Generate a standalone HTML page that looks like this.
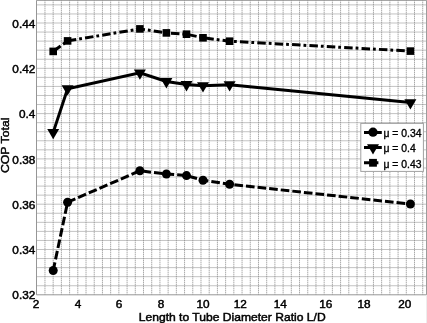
<!DOCTYPE html>
<html><head><meta charset="utf-8"><style>
html,body{margin:0;padding:0;background:#fff;overflow:hidden}
svg{display:block}
</style></head><body>
<svg width="427" height="323" viewBox="0 0 427 323">
<rect width="427" height="323" fill="#fff"/>
<path d="M44.96 0.3V294.80M53.17 0.3V294.80M61.39 0.3V294.80M69.60 0.3V294.80M77.81 0.3V294.80M86.02 0.3V294.80M94.23 0.3V294.80M102.45 0.3V294.80M110.66 0.3V294.80M118.87 0.3V294.80M127.08 0.3V294.80M135.29 0.3V294.80M143.51 0.3V294.80M151.72 0.3V294.80M159.93 0.3V294.80M168.14 0.3V294.80M176.35 0.3V294.80M184.57 0.3V294.80M192.78 0.3V294.80M200.99 0.3V294.80M209.20 0.3V294.80M217.41 0.3V294.80M225.63 0.3V294.80M233.84 0.3V294.80M242.05 0.3V294.80M250.26 0.3V294.80M258.47 0.3V294.80M266.69 0.3V294.80M274.90 0.3V294.80M283.11 0.3V294.80M291.32 0.3V294.80M299.53 0.3V294.80M307.75 0.3V294.80M315.96 0.3V294.80M324.17 0.3V294.80M332.38 0.3V294.80M340.59 0.3V294.80M348.81 0.3V294.80M357.02 0.3V294.80M365.23 0.3V294.80M373.44 0.3V294.80M381.65 0.3V294.80M389.87 0.3V294.80M398.08 0.3V294.80M406.29 0.3V294.80M414.50 0.3V294.80M422.71 0.3V294.80M36.5 285.74H426.57M36.5 276.68H426.57M36.5 267.62H426.57M36.5 258.56H426.57M36.5 249.50H426.57M36.5 240.44H426.57M36.5 231.38H426.57M36.5 222.32H426.57M36.5 213.26H426.57M36.5 204.20H426.57M36.5 195.14H426.57M36.5 186.08H426.57M36.5 177.02H426.57M36.5 167.96H426.57M36.5 158.90H426.57M36.5 149.84H426.57M36.5 140.78H426.57M36.5 131.72H426.57M36.5 122.66H426.57M36.5 113.60H426.57M36.5 104.54H426.57M36.5 95.48H426.57M36.5 86.42H426.57M36.5 77.36H426.57M36.5 68.30H426.57M36.5 59.24H426.57M36.5 50.18H426.57M36.5 41.12H426.57M36.5 32.06H426.57M36.5 23.00H426.57M36.5 13.94H426.57M36.5 4.88H426.57" stroke="#868686" stroke-width="1" stroke-dasharray="1 1" fill="none"/>
<path d="M36.5 0.35V294.8H426.57V0.35Z" stroke="#969696" stroke-width="1" fill="none"/>
<path d="M426.57 295.30V323" stroke="#ececec" stroke-width="1"/>
<polyline points="53.2,270.5 67.6,202.2 139.9,170.8 166.4,174.0 186.5,175.6 203.0,180.2 229.6,184.3 410.4,204.0" stroke="#000" stroke-width="3" fill="none" stroke-dasharray="8.65 3" stroke-dashoffset="0.3"/>
<polyline points="53.2,132.4 67.6,88.7 139.9,72.9 166.4,81.5 186.5,84.5 203.0,85.7 229.6,84.7 410.4,102.6" stroke="#000" stroke-width="3" fill="none" stroke-linejoin="miter"/>
<polyline points="53.2,51.4 67.6,40.9 139.9,28.9 166.4,32.9 186.5,34.2 203.0,37.8 229.6,41.2 410.4,51.1" stroke="#000" stroke-width="3" fill="none" stroke-dasharray="8.5 2.95 2.8 3.15" stroke-dashoffset="-0.7"/>
<circle cx="53.2" cy="270.5" r="4.5"/>
<circle cx="67.6" cy="202.2" r="4.5"/>
<circle cx="139.9" cy="170.8" r="4.5"/>
<circle cx="166.4" cy="174.0" r="4.5"/>
<circle cx="186.5" cy="175.6" r="4.5"/>
<circle cx="203.0" cy="180.2" r="4.5"/>
<circle cx="229.6" cy="184.3" r="4.5"/>
<circle cx="410.4" cy="204.0" r="4.5"/>
<path d="M47.2 128.95H59.2L53.2 139.30Z"/>
<path d="M61.6 85.25H73.6L67.6 95.60Z"/>
<path d="M133.9 69.45H145.9L139.9 79.80Z"/>
<path d="M160.4 78.05H172.4L166.4 88.40Z"/>
<path d="M180.5 81.05H192.5L186.5 91.40Z"/>
<path d="M197.0 82.25H209.0L203.0 92.60Z"/>
<path d="M223.6 81.25H235.6L229.6 91.60Z"/>
<path d="M404.4 99.15H416.4L410.4 109.50Z"/>
<rect x="49.4" y="47.6" width="7.6" height="7.6"/>
<rect x="63.8" y="37.1" width="7.6" height="7.6"/>
<rect x="136.1" y="25.1" width="7.6" height="7.6"/>
<rect x="162.6" y="29.1" width="7.6" height="7.6"/>
<rect x="182.7" y="30.4" width="7.6" height="7.6"/>
<rect x="199.2" y="34.0" width="7.6" height="7.6"/>
<rect x="225.8" y="37.4" width="7.6" height="7.6"/>
<rect x="406.6" y="47.3" width="7.6" height="7.6"/>
<g font-family="'Liberation Sans', Arial, sans-serif" fill="#000" stroke="#000" stroke-width="0.5">
<text transform="translate(35.30 299.40) scale(1 0.9)" font-size="11.8" text-anchor="end">0.32</text>
<text transform="translate(35.30 254.10) scale(1 0.9)" font-size="11.8" text-anchor="end">0.34</text>
<text transform="translate(35.30 208.80) scale(1 0.9)" font-size="11.8" text-anchor="end">0.36</text>
<text transform="translate(35.30 163.50) scale(1 0.9)" font-size="11.8" text-anchor="end">0.38</text>
<text transform="translate(35.30 118.20) scale(1 0.9)" font-size="11.8" text-anchor="end">0.4</text>
<text transform="translate(35.30 72.90) scale(1 0.9)" font-size="11.8" text-anchor="end">0.42</text>
<text transform="translate(35.30 27.60) scale(1 0.9)" font-size="11.8" text-anchor="end">0.44</text>
<text transform="translate(36.10 307.80) scale(1 0.9)" font-size="11.8" text-anchor="middle">2</text>
<text transform="translate(77.96 307.80) scale(1 0.9)" font-size="11.8" text-anchor="middle">4</text>
<text transform="translate(119.12 307.80) scale(1 0.9)" font-size="11.8" text-anchor="middle">6</text>
<text transform="translate(161.08 307.80) scale(1 0.9)" font-size="11.8" text-anchor="middle">8</text>
<text transform="translate(203.04 307.80) scale(1 0.9)" font-size="11.8" text-anchor="middle">10</text>
<text transform="translate(240.30 307.80) scale(1 0.9)" font-size="11.8" text-anchor="middle">12</text>
<text transform="translate(280.26 307.80) scale(1 0.9)" font-size="11.8" text-anchor="middle">14</text>
<text transform="translate(325.72 307.80) scale(1 0.9)" font-size="11.8" text-anchor="middle">16</text>
<text transform="translate(363.98 307.80) scale(1 0.9)" font-size="11.8" text-anchor="middle">18</text>
<text transform="translate(404.74 307.80) scale(1 0.9)" font-size="11.8" text-anchor="middle">20</text>
<text transform="translate(232.20 320.60) scale(1 0.95)" font-size="12.1" text-anchor="middle">Length to Tube Diameter Ratio L/D</text>
<text transform="translate(8.60 145.30) rotate(-90) scale(1 0.88)" font-size="12.3" text-anchor="middle">COP Total</text>
</g>
<rect x="360.8" y="123.4" width="62.6" height="48" fill="#fff" stroke="#a0a0a0" stroke-width="1"/>
<path d="M364 132.4H381.8M364 147.6H381.8" stroke="#000" stroke-width="3"/>
<path d="M364 162.8H381.4" stroke="#000" stroke-width="3" stroke-dasharray="8.6 3 2.8 3.2"/>
<circle cx="373" cy="132.2" r="4.65"/>
<path d="M367 144.15H379L373 154.5Z"/>
<rect x="369.1" y="158.9" width="7.8" height="7.8"/>
<g font-family="'Liberation Sans', Arial, sans-serif" fill="#000" stroke="#000" stroke-width="0.35">
<text transform="translate(383.40 136.85)" font-size="10.4">μ = 0.34</text>
<text transform="translate(383.40 152.20)" font-size="10.4">μ = 0.4</text>
<text transform="translate(383.40 167.55)" font-size="10.4">μ = 0.43</text>
</g>
</svg>
</body></html>
